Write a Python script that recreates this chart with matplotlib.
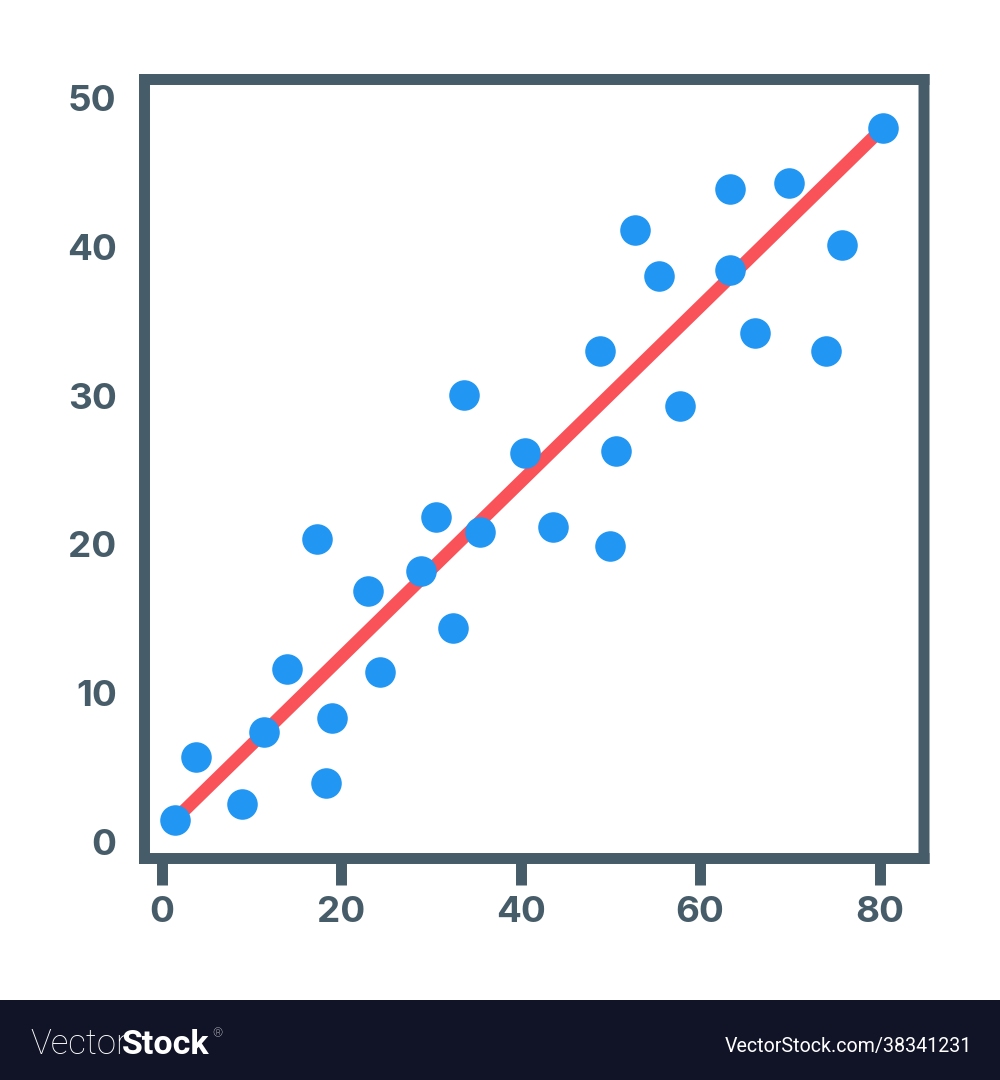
import numpy as np
import matplotlib
matplotlib.use('Agg')
import matplotlib.pyplot as plt
from matplotlib.patches import Rectangle

x_vals = [1.45, 3.8, 8.95, 11.4, 14.0, 17.3, 18.3, 19.0, 22.95, 24.3,
          28.9, 30.55, 32.45, 33.65, 35.45, 40.45, 43.6, 48.8, 49.95, 50.6,
          52.8, 55.4, 57.75, 63.35, 63.35, 66.1, 69.9, 74.0, 75.8, 80.4]
y_vals = [1.48, 5.7, 2.55, 7.4, 11.6, 20.35, 3.97, 8.3, 16.9, 11.4,
          18.2, 21.85, 14.4, 30.05, 20.8, 26.15, 21.2, 33.0, 19.9, 26.3,
          41.1, 38.05, 29.3, 43.9, 38.45, 34.2, 44.3, 33.0, 40.1, 48.0]
fit_x = [1.45, 80.4]
fit_y = [1.48, 48.0]
x_ticks = [0, 20, 40, 60, 80]
y_ticks = [0, 10, 20, 30, 40, 50]

slate = '#475c69'
red = '#f95259'
blue = '#2196f3'
footer = '#111427'

W, H = 1000, 1080
fig = plt.figure(figsize=(W / 100, H / 100), dpi=100, facecolor='white')
ax = fig.add_axes([144.5 / W, 1 - 858.5 / H, (924 - 144.5) / W, (858.5 - 79.5) / H])

ax.plot(fit_x, fit_y, color=red, lw=9.2, solid_capstyle='butt', zorder=2)
ax.plot(x_vals, y_vals, 'o', color=blue, ms=22, mew=0, zorder=3, clip_on=False)

ax.set_xlim(-1.9, 84.95)
ax.set_ylim(-1.11, 51.24)
ax.set_xticks(x_ticks)
ax.set_yticks(y_ticks)

for s in ax.spines.values():
    s.set_linewidth(7.9)
    s.set_color(slate)
    s.set_snap(False)

ax.tick_params(axis='x', length=19, width=7.9, color=slate, pad=8)
ax.tick_params(axis='y', length=0, pad=20)
for lab in ax.get_xticklabels() + ax.get_yticklabels():
    lab.set_family('Inter')
    lab.set_weight('bold')
    lab.set_size(26.5)
    lab.set_color(slate)

# footer strip
fig.add_artist(Rectangle((0, 0), 1, 80 / H, transform=fig.transFigure, color=footer, lw=0))
fig.text(30 / W, 1 - 1054 / H, 'Vector', color='white', family='Roboto', weight='light', size=25, va='baseline')
fig.text(122 / W, 1 - 1054 / H, 'Stock', color='white', family='Roboto', weight='bold', size=24.5, va='baseline')
fig.text(212.5 / W, 1 - 1037 / H, '®', color='white', family='Roboto', weight='light', size=9, va='baseline')
fig.text(972 / W, 1 - 1052 / H, 'VectorStock.com/38341231', color='white', family='Roboto', size=14.1, ha='right', va='baseline')

fig.savefig('out.png', dpi=100)
